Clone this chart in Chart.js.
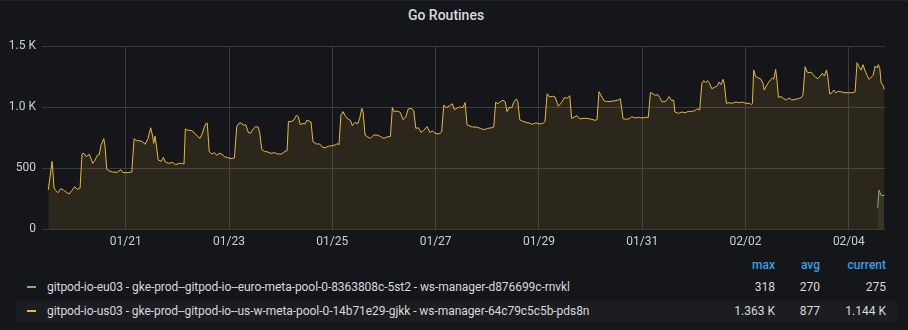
<!DOCTYPE html>
<html>
<head>
<meta charset="utf-8">
<script src="https://cdn.jsdelivr.net/npm/chart.js@4/dist/chart.umd.min.js"></script>
<style>
  html, body { margin:0; padding:0; background:#141619; }
  #wrap { position:relative; width:908px; height:330px; background:#141619; overflow:hidden;
          font-family: Roboto, "Noto Sans", sans-serif; color:#d8d9da; }
  #topline { position:absolute; left:0; top:0; width:908px; height:1px; background:#202226; }
  #title { position:absolute; left:0; top:6px; width:892px; text-align:center; font-size:14px;
           font-weight:500; color:#d8d9da; line-height:18px; }
  #cv { position:absolute; left:0; top:0; }
  .hdr { position:absolute; top:257px; font-size:12px; font-weight:500; color:#33a2e5; line-height:16px; text-align:right; }
  .row { position:absolute; font-size:12px; line-height:16px; white-space:nowrap; letter-spacing:-0.06px; }
  .val { position:absolute; font-size:12px; line-height:16px; text-align:right; white-space:nowrap; }
  .dash { position:absolute; width:9px; height:2px; }
  #band { position:absolute; left:16px; top:300px; width:881px; height:22px; background:#1b1d21; }
</style>
</head>
<body>
<div id="wrap">
  <div id="topline"></div>
  <div id="title">Go Routines</div>
  <canvas id="cv" width="908" height="255"></canvas>
  <div id="band"></div>
  <div id="legend"></div>
</div>
<script>
// ---- data (time in hours since 01/19 00:00) ----
const xTickHours = [48, 96, 144, 192, 240, 288, 336, 384];
const xTickLabels = ['01/21', '01/23', '01/25', '01/27', '01/29', '01/31', '02/02', '02/04'];
const yTickValues = [0, 500, 1000, 1500];

const usTimes = [
  12.0, 13.8, 14.7, 15.5, 16.5, 17.8, 19.0, 20.3, 21.7, 22.9, 24.3, 25.5, 26.8,
  27.7, 28.6, 29.7, 31.1, 32.7, 33.6, 34.8, 35.7, 36.5, 37.8, 38.4,
  39.2, 40.2, 41.8, 44.1, 45.7, 46.7, 48.7, 50.8,
  51.9, 53.1, 54.2, 55.7, 57.0, 58.4, 59.6, 60.4, 61.0, 61.6, 62.2,
  63.1, 64.5, 65.5, 66.4, 68.1, 69.7, 71.2, 72.8, 74.3, 75.1,
  75.7, 76.6, 78.7, 80.2, 81.5, 82.5, 83.6, 84.5, 85.3, 85.9,
  86.8, 88.0, 89.2, 90.3, 91.5, 92.6, 93.8, 95.4, 96.9, 98.5,
  99.6, 100.6, 101.6, 102.6, 103.8, 105.0, 106.2, 107.3, 108.4, 109.6, 110.3,
  111.2, 112.4, 114.0, 115.5, 117.1, 118.6, 120.5, 122.0, 123.0,
  123.6, 124.8, 126.1, 127.3, 128.2, 129.1, 130.4, 131.3, 132.2, 133.5, 134.1,
  135.0, 136.6, 138.1, 139.4, 140.6, 142.1, 143.7, 145.3, 146.5, 147.1,
  148.0, 149.0, 149.9, 151.2, 152.4, 153.3, 154.5, 155.8, 156.7, 157.7, 158.3,
  159.2, 160.5, 161.7, 163.2, 164.8, 166.3, 167.9, 169.4, 171.0,
  171.9, 172.8, 174.1, 175.6, 176.9, 178.1, 179.3, 180.6, 181.8,
  182.8, 184.0, 185.2, 186.5, 188.0, 189.3, 190.5, 192.1, 193.9, 194.8,
  195.8, 197.0, 198.6, 199.8, 200.7, 202.3, 203.5, 204.7, 205.7,
  206.6, 207.5, 209.1, 210.9, 212.8, 214.6, 216.2, 218.1, 219.0,
  219.9, 220.9, 222.1, 223.3, 224.3, 225.2, 226.1, 227.4, 228.3, 229.5, 230.2,
  231.1, 232.3, 233.9, 235.4, 236.9, 238.5, 240.1, 241.6, 242.8,
  243.8, 245.0, 246.2, 247.5, 249.0, 250.6, 251.8, 253.1, 254.3,
  255.2, 256.5, 257.7, 259.0, 260.5, 262.0, 263.9, 266.1, 267.0,
  267.9, 268.9, 270.4, 272.0, 273.8, 275.4, 276.9, 277.8,
  279.1, 280.3, 281.9, 283.1, 284.7, 286.2, 288.1, 289.6, 290.8,
  291.8, 292.7, 294.0, 295.2, 296.1, 297.3, 298.9, 300.5, 301.7, 302.6,
  303.2, 304.8, 306.4, 307.9, 309.4, 311.0, 312.5, 313.5, 314.7,
  315.7, 316.6, 317.5, 318.4, 319.4, 320.3, 321.5, 322.8, 323.7, 324.6, 325.6, 326.2,
  327.1, 328.3, 329.9, 331.5, 333.0, 334.5, 336.1, 338.0, 338.6, 339.2,
  339.8, 340.7, 342.0, 343.2, 344.1, 344.7, 345.7, 346.6, 347.5, 348.5, 349.1, 350.0, 350.6,
  351.3, 352.5, 353.8, 355.0, 356.2, 357.5, 359.0, 360.5, 362.1, 362.7,
  363.7, 364.6, 365.5, 366.4, 367.4, 368.6, 369.6, 370.5, 371.7, 372.6, 373.6, 374.2,
  375.1, 376.1, 377.0, 377.9, 379.1, 380.7, 382.2, 383.8, 385.4, 386.9,
  387.8, 388.7, 389.7, 390.6, 391.5, 392.5, 393.4, 394.3, 395.3, 396.2, 397.1, 397.7, 398.4,
  399.0, 399.9, 400.5
];
const usValues = [
  320, 555, 336, 314, 298, 330, 320, 303, 287, 314, 347, 325, 336,
  615, 620, 593, 612, 538, 560, 604, 609, 689, 740, 675,
  489, 478, 467, 465, 486, 462, 462, 467,
  740, 724, 724, 716, 694, 743, 830, 770, 702, 762, 689,
  566, 555, 588, 549, 538, 547, 527, 538, 538, 533,
  820, 811, 806, 784, 757, 743, 784, 834, 866, 866,
  634, 615, 626, 604, 620, 615, 593, 585, 577, 582,
  839, 866, 871, 850, 855, 789, 789, 822, 839, 834, 784,
  653, 637, 631, 620, 626, 615, 615, 637, 642,
  882, 880, 893, 932, 921, 855, 866, 861, 893, 882, 877,
  716, 697, 697, 670, 666, 678, 683, 689, 700, 689,
  934, 962, 929, 902, 891, 847, 874, 863, 907, 989, 962,
  770, 754, 743, 770, 770, 759, 743, 754, 759,
  995, 962, 967, 956, 896, 918, 984, 989, 973,
  825, 830, 792, 809, 839, 792, 803, 781, 781, 798,
  1016, 995, 1011, 1027, 978, 995, 1000, 995, 1036,
  855, 847, 836, 836, 825, 814, 825, 830, 836,
  1039, 1027, 1044, 1055, 1044, 962, 995, 995, 1039, 1066, 1044,
  896, 885, 874, 869, 858, 869, 863, 863, 880,
  1109, 1082, 1088, 1082, 1006, 1039, 1077, 1071, 1093,
  907, 918, 929, 902, 907, 907, 902, 891, 896,
  1126, 1093, 1049, 1044, 1047, 1052, 1057, 1068,
  904, 899, 904, 921, 910, 915, 910, 915, 915,
  1117, 1112, 1096, 1101, 1079, 1041, 1047, 1085, 1052, 1057,
  959, 948, 959, 953, 964, 964, 970, 986, 975,
  1194, 1216, 1199, 1216, 1189, 1150, 1161, 1172, 1205, 1183, 1227, 1183,
  1030, 1035, 1030, 1041, 1035, 1041, 1030, 1030, 1019, 1030,
  1303, 1249, 1238, 1227, 1194, 1139, 1172, 1199, 1221, 1238, 1227, 1308, 1221,
  1079, 1085, 1068, 1057, 1074, 1057, 1063, 1068, 1079, 1101,
  1330, 1287, 1281, 1287, 1265, 1243, 1232, 1249, 1276, 1254, 1303, 1249,
  1107, 1117, 1139, 1117, 1128, 1123, 1117, 1117, 1117, 1123,
  1363, 1330, 1303, 1347, 1298, 1260, 1227, 1243, 1260, 1336, 1320, 1347, 1314,
  1199, 1178, 1144
];
const euTimes = [397.4, 398.0, 399.0, 400.5];
const euValues = [175, 318, 276, 275];

const seriesNames = [
  'gitpod-io-eu03 - gke-prod--gitpod-io--euro-meta-pool-0-8363808c-5st2 - ws-manager-d876699c-rnvkl',
  'gitpod-io-us03 - gke-prod--gitpod-io--us-w-meta-pool-0-14b71e29-gjkk - ws-manager-64c79c5c5b-pds8n'
];
const legendMax = ['318', '1.363 K'];
const legendAvg = ['270', '877'];
const legendCurrent = ['275', '1.144 K'];
const seriesColors = ['#7EB26D', '#EAB839'];
const xMinHours = 9.1, xMaxHours = 400.8;

// ---- chart ----
Chart.defaults.font.family = 'Roboto, "Noto Sans", sans-serif';
Chart.defaults.font.size = 12;
Chart.defaults.color = '#c7d0d9';

const pts = (t, v) => t.map((x, i) => ({ x: x, y: v[i] }));
const gridColor = '#393a3e';

new Chart(document.getElementById('cv'), {
  type: 'line',
  data: {
    datasets: [
      { label: seriesNames[1], data: pts(usTimes, usValues), borderColor: seriesColors[1], borderWidth: 1,
        backgroundColor: 'rgba(234,184,57,0.11)', fill: 'origin', pointRadius: 0, tension: 0 },
      { label: seriesNames[0], data: pts(euTimes, euValues), borderColor: seriesColors[0], borderWidth: 1,
        backgroundColor: 'rgba(126,178,109,0.11)', fill: 'origin', pointRadius: 0, tension: 0 }
    ]
  },
  options: {
    responsive: false, animation: false, events: [],
    layout: { padding: { top: 46, right: 23, left: 0, bottom: 0 } },
    plugins: { legend: { display: false }, tooltip: { enabled: false }, title: { display: false } },
    scales: {
      x: {
        type: 'linear', min: xMinHours, max: xMaxHours,
        afterBuildTicks: (s) => { s.ticks = xTickHours.map(v => ({ value: v })); },
        afterFit: (s) => { s.height = 26; },
        ticks: { padding: 6, maxRotation: 0, autoSkip: false,
                 callback: (v) => { const i = xTickHours.indexOf(v); return i >= 0 ? xTickLabels[i] : ''; } },
        grid: { color: gridColor, drawTicks: false, lineWidth: 1 },
        border: { display: false }
      },
      y: {
        min: 0, max: 1500,
        afterBuildTicks: (s) => { s.ticks = yTickValues.map(v => ({ value: v })); },
        afterFit: (s) => { s.width = 42; },
        ticks: { padding: 6, callback: (v) => v >= 1000 ? (v / 1000).toFixed(1) + ' K' : String(v) },
        grid: { color: gridColor, drawTicks: false, lineWidth: 1 },
        border: { display: false }
      }
    }
  }
});

// ---- legend ----
const lg = document.getElementById('legend');
function add(cls, html, style) { const d = document.createElement('div'); d.className = cls; d.textContent = html; Object.assign(d.style, style); lg.appendChild(d); return d; }
add('hdr', 'max', { left: '700px', width: '75px' });
add('hdr', 'avg', { left: '770px', width: '50px' });
add('hdr', 'current', { left: '820px', width: '66px' });
const rowY = [279, 303];
for (let i = 0; i < 2; i++) {
  const d = document.createElement('div'); d.className = 'dash';
  Object.assign(d.style, { left: '27px', top: (rowY[i] + 7) + 'px', background: seriesColors[i] }); lg.appendChild(d);
  add('row', seriesNames[i], { left: '47px', top: rowY[i] + 'px' });
  add('val', legendMax[i], { left: '700px', width: '75px', top: rowY[i] + 'px' });
  add('val', legendAvg[i], { left: '770px', width: '50px', top: rowY[i] + 'px' });
  add('val', legendCurrent[i], { left: '820px', width: '66px', top: rowY[i] + 'px' });
}
</script>
</body>
</html>
